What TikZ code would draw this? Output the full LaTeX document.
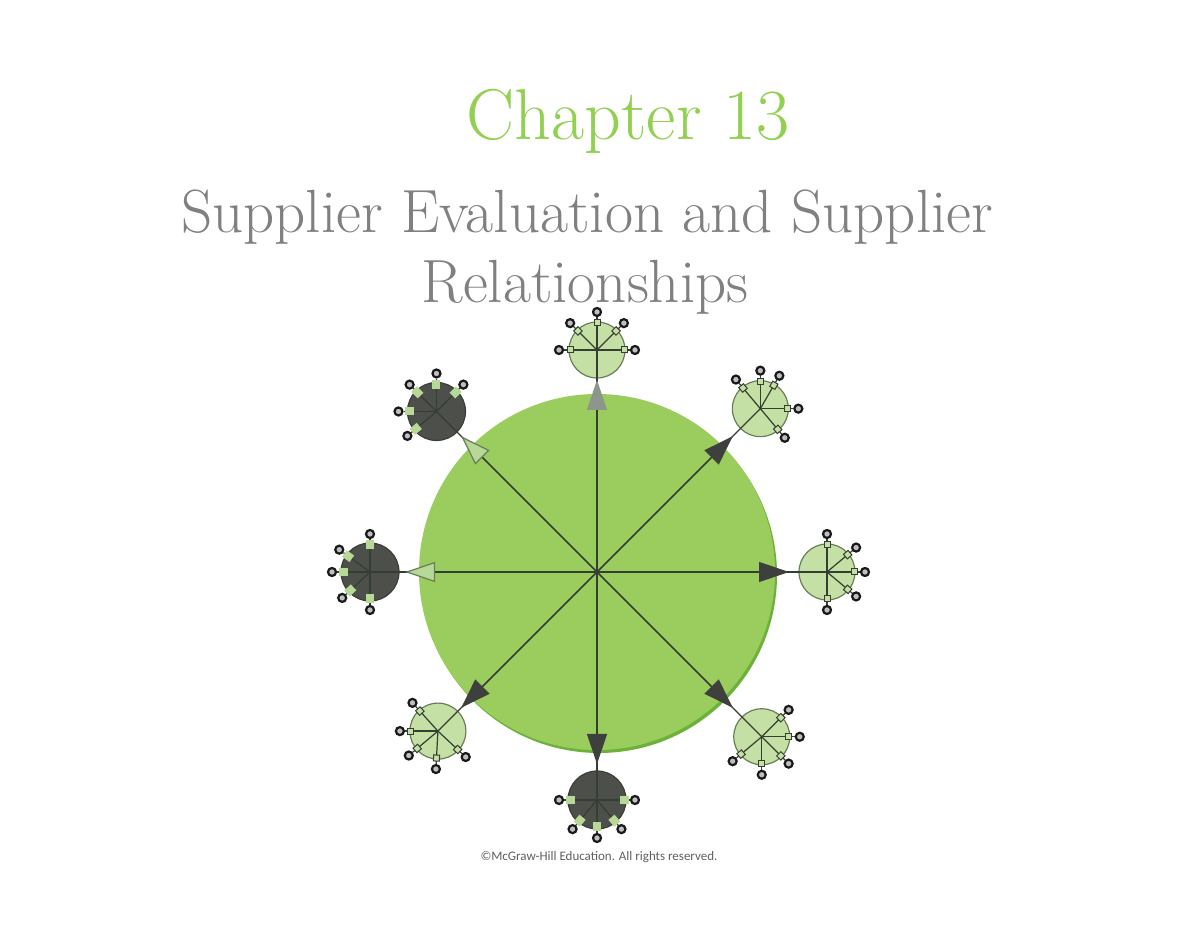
\documentclass[tikz,border=0pt]{standalone}
\usepackage{fontspec}
\newfontfamily\footfont{Carlito}
\usetikzlibrary{arrows.meta}

\definecolor{titlegreen}{RGB}{146,208,80}
\definecolor{subgray}{RGB}{128,128,128}
\definecolor{footgray}{RGB}{96,96,96}
\definecolor{hubgreen}{RGB}{155,204,94}
\definecolor{hubshadow}{RGB}{108,178,58}
\definecolor{satfill}{RGB}{197,224,164}
\definecolor{satedge}{RGB}{105,125,88}
\definecolor{satdarkfill}{RGB}{76,79,74}
\definecolor{spokecol}{RGB}{52,62,50}
\definecolor{tipdarkcol}{RGB}{62,64,62}
\definecolor{tipgraycol}{RGB}{140,150,138}
\definecolor{tiplightcol}{RGB}{184,216,152}

\tikzset{
  hub/.style={circle,fill=hubgreen,minimum size=178pt,inner sep=0pt},
  satlight/.style={circle,fill=satfill,draw=satedge,line width=0.6pt,minimum size=28pt,inner sep=0pt},
  satdark/.style={circle,fill=satdarkfill,draw=satdarkfill!80!black,line width=0.6pt,minimum size=29pt,inner sep=0pt},
  leaf/.style={circle,fill=gray!50,draw=black!90,line width=1.1pt,minimum size=4pt,inner sep=0pt},
  spoke/.style={draw=spokecol,line width=0.6pt},
  mklight/.style={rectangle,fill=satfill,draw=spokecol,line width=0.5pt,minimum size=3pt,inner sep=0pt},
  mkdark/.style={rectangle,fill=tiplightcol,minimum width=4.5pt,minimum height=4pt,inner sep=0pt},
  tipdark/.style={-{Triangle[length=15pt,width=10pt,color=tipdarkcol]}},
  tipgray/.style={-{Triangle[length=15pt,width=10pt,color=tipgraycol]}},
  tiplight/.style={-{Triangle[length=15pt,width=10pt,color=satedge,fill=tiplightcol]}}
}

\begin{document}
\begin{tikzpicture}[x=0.5pt,y=0.5pt]
\fill[white] (0,0) rectangle (1200,927);
\useasboundingbox (0,0) rectangle (1200,927);

% titles
\node[titlegreen,font=\fontsize{36}{43}\selectfont,anchor=base] (title) at (628,787) {Chapter 13};
\node[subgray,font=\fontsize{30.5}{36}\selectfont,anchor=base] (sub1) at (587,694) {Supplier Evaluation and Supplier};
\node[subgray,font=\fontsize{30.5}{36}\selectfont,anchor=base] (sub2) at (585,624) {Relationships};

% hub
\fill[hubshadow] (599,352) circle[radius=178];
\node[hub] (hub) at (597,355) {};

% satellites
\foreach \a/\k/\m/\t/\r/\ds [count=\i] in {
  90/satlight/mklight/tipgray/222/{90,135,45,180,0},
  45/satlight/mklight/tipdark/231/{90,130,60,0,-50},
  0/satlight/mklight/tipdark/230/{90,40,0,-40,-90},
  -45/satlight/mklight/tipdark/233/{45,0,-45,-90,-140},
  -90/satdark/mkdark/tipdark/228/{180,0,-130,-90,-50},
  -135/satlight/mklight/tipdark/225/{132,180,-140,-93,-43},
  180/satdark/mkdark/tiplight/227/{90,144,180,-137,-90},
  135/satdark/mkdark/tiplight/227/{90,135,45,180,-140}}{
  \node[\k] (sat\i) at ([shift={(\a:\r)}]hub.center) {};
  \draw[spoke] (hub.center) -- (sat\i.center);
  \coordinate (tip\i) at ([shift={(\a:192)}]hub.center);
  \draw[spoke,\t] (hub.center) -- (tip\i);
  \foreach \d [count=\j] in \ds {
    \node[leaf] (leaf\i-\j) at ([shift={(\d:38)}]sat\i.center) {};
    \draw[spoke] (sat\i.center) -- (leaf\i-\j);
    \node[\m,rotate=\d] (mark\i-\j) at ([shift={(\d:27)}]sat\i.center) {};
  }
}

% footer
\node[footgray,font=\footfont\fontsize{6.5}{8}\selectfont,anchor=base] (foot) at (599,67) {©McGraw-Hill Education. All rights reserved.};
\end{tikzpicture}
\end{document}
